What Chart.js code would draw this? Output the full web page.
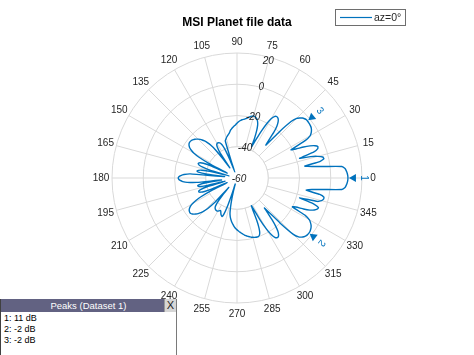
<!DOCTYPE html>
<html><head><meta charset="utf-8">
<script src="https://cdn.jsdelivr.net/npm/chart.js@4.4.1/dist/chart.umd.min.js"></script>
<style>
html,body{margin:0;padding:0;background:#fff;}
#wrap{position:relative;width:474px;height:355px;overflow:hidden;background:#fff;}
#c{position:absolute;left:0;top:0;}
#peaks{position:absolute;left:0;top:299px;width:175px;height:60px;background:#fff;border-left:1px solid #404040;border-right:1px solid #7a7a7a;font-family:Arial,"Liberation Sans",sans-serif;}
#peaks .hdr{position:relative;height:13px;background:#626282;color:#fff;font-size:9.5px;line-height:13px;text-align:center;}
#peaks .x{position:absolute;right:0;top:0;width:12px;height:13px;background:#d6d6d6;color:#222;font-size:11px;line-height:13px;text-align:center;box-sizing:border-box;border-left:1px solid #9a9a9a;}
#peaks .row{font-size:9px;line-height:11px;padding-left:3px;color:#000;}
#peaks .rows{padding-top:1px;}
</style></head><body>
<div id="wrap">
<canvas id="c" width="474" height="355"></canvas>
<div id="peaks"><div class="hdr">Peaks (Dataset 1)<div class="x">X</div></div><div class="rows" id="rows"></div></div>
</div>
<script>
// ---- data, one row = 15 degrees ----
const anglesDeg = [
  0, 1.25, 2.5, 3.75, 5, 6.25, 7.5, 8.75, 10, 11.25, 12.5, 13.75,
  15, 16.25, 17.5, 18.75, 20, 21.25, 22.5, 23.75, 25, 26.25, 27.5, 28.75,
  30, 31.25, 32.5, 33.75, 35, 36.25, 37.5, 38.75, 40, 41.25, 42.5, 43.75,
  45, 46.25, 47.5, 48.75, 50, 51.25, 52.5, 53.75, 55, 56.25, 57.5, 58.75,
  60, 61.25, 62.5, 63.75, 65, 66.25, 67.5, 68.75, 70, 71.25, 72.5, 73.75,
  75, 76.25, 77.5, 78.75, 80, 81.25, 82.5, 83.75, 85, 86.25, 87.5, 88.75,
  90, 91.25, 92.5, 93.75, 95, 96.25, 97.5, 98.75, 100, 101.25, 102.5, 103.75,
  105, 106.25, 107.5, 108.75, 110, 111.25, 112.5, 113.75, 115, 116.25, 117.5, 118.75,
  120, 121.25, 122.5, 123.75, 125, 126.25, 127.5, 128.75, 130, 131.25, 132.5, 133.75,
  135, 136.25, 137.5, 138.75, 140, 141.25, 142.5, 143.75, 145, 146.25, 147.5, 148.75,
  150, 151.25, 152.5, 153.75, 155, 156.25, 157.5, 158.75, 160, 161.25, 162.5, 163.75,
  165, 166.25, 167.5, 168.75, 170, 171.25, 172.5, 173.75, 175, 176.25, 177.5, 178.75,
  180, 181.25, 182.5, 183.75, 185, 186.25, 187.5, 188.75, 190, 191.25, 192.5, 193.75,
  195, 196.25, 197.5, 198.75, 200, 201.25, 202.5, 203.75, 205, 206.25, 207.5, 208.75,
  210, 211.25, 212.5, 213.75, 215, 216.25, 217.5, 218.75, 220, 221.25, 222.5, 223.75,
  225, 226.25, 227.5, 228.75, 230, 231.25, 232.5, 233.75, 235, 236.25, 237.5, 238.75,
  240, 241.25, 242.5, 243.75, 245, 246.25, 247.5, 248.75, 250, 251.25, 252.5, 253.75,
  255, 256.25, 257.5, 258.75, 260, 261.25, 262.5, 263.75, 265, 266.25, 267.5, 268.75,
  270, 271.25, 272.5, 273.75, 275, 276.25, 277.5, 278.75, 280, 281.25, 282.5, 283.75,
  285, 286.25, 287.5, 288.75, 290, 291.25, 292.5, 293.75, 295, 296.25, 297.5, 298.75,
  300, 301.25, 302.5, 303.75, 305, 306.25, 307.5, 308.75, 310, 311.25, 312.5, 313.75,
  315, 316.25, 317.5, 318.75, 320, 321.25, 322.5, 323.75, 325, 326.25, 327.5, 328.75,
  330, 331.25, 332.5, 333.75, 335, 336.25, 337.5, 338.75, 340, 341.25, 342.5, 343.75,
  345, 346.25, 347.5, 348.75, 350, 351.25, 352.5, 353.75, 355, 356.25, 357.5, 358.75
];
const gainDb = [
  11, 10.9, 10.6, 10.1, 9.4, 7.5, -3.5, -11.5, -16, -6, -3, -3.5,
  -6.5, -11, -18, -8, -5, -4.5, -6, -9, -13, -18, -21, -10,
  -6, -4.5, -3.5, -2.8, -2.4, -2.2, -2.1, -2, -2, -2.5, -3.2, -4.5,
  -6, -10, -20, -32, -28, -22, -18, -15.5, -14, -13.3, -13.2, -14,
  -16, -20, -26, -33, -38, -32, -27, -23.5, -21.5, -20.3, -19.6, -19.2,
  -19, -19.2, -19.6, -20.3, -21, -21.5, -22, -22.3, -22.6, -23, -23.5, -24.2,
  -25, -25.7, -26.4, -27, -27.6, -28.3, -29, -30, -31, -31.6, -32.2, -32.8,
  -33.5, -34.3, -35, -48, -56, -48, -41, -37.5, -35.8, -35, -34.6, -34.4,
  -34.5, -35, -36.5, -40, -52, -45, -37, -33, -30.5, -28.5, -27, -25.8,
  -24.8, -24, -23.3, -22.8, -22.4, -22.1, -22, -22.1, -22.5, -23.2, -24.2, -25.8,
  -28, -32, -40, -53, -42, -36.5, -34.5, -33.6, -33.6, -34.5, -37, -42,
  -55, -42, -37, -34.8, -34, -35, -40, -52, -30, -26, -24, -22.8,
  -22.4, -22.7, -23.6, -25.2, -28, -34, -50, -40, -35.5, -34.3, -35, -38,
  -52, -40, -35.5, -34.2, -34, -35, -37.5, -43, -53, -42, -34, -30,
  -27, -25.2, -24, -23.2, -22.8, -22.6, -22.7, -23.2, -24, -25, -26.3, -28,
  -30, -33, -38, -52, -45, -40, -37.5, -36.3, -35.8, -35.5, -35.3, -35.3,
  -35.5, -36, -36.5, -36.5, -35.5, -34.5, -34, -33.5, -35, -40, -50, -56,
  -51, -46, -41, -37, -35, -33.5, -32.3, -31.2, -30.2, -29.2, -28.3, -27.5,
  -26.8, -26.2, -25.6, -25, -24.4, -23.8, -23.2, -22.7, -22.2, -21.8, -21.4, -21,
  -20.7, -20.4, -20.2, -20.1, -20.1, -20.6, -22, -25, -30, -37, -40, -30,
  -22, -17.5, -15, -14, -14, -15, -17, -20.5, -25, -30, -34, -20,
  -9, -5.5, -4, -3, -2.4, -2.1, -2, -2.1, -2.5, -3, -3.8, -5,
  -6.5, -10, -20, -18, -13, -9, -6.5, -5, -4.5, -8, -18, -6.5,
  -4, -3, -3, -6, -15, -11.5, -3.5, 7.5, 9.4, 10.1, 10.6, 10.9
];
const angleTickValues = [0, 15, 30, 45, 60, 75, 90, 105, 120, 135, 150, 165, 180, 195, 210, 225, 240, 255, 270, 285, 300, 315, 330, 345];
const angleTickLabels = ['0', '15', '30', '45', '60', '75', '90', '105', '120', '135', '150', '165', '180', '195', '210', '225', '240', '255', '270', '285', '300', '315', '330', '345'];
const radialTickValues = [-60, -40, -20, 0, 20];
const radialTickLabels = ['-60', '-40', '-20', '0', '20'];
const peakIds = ['1', '2', '3'];
const peakAngles = [0, 322.5, 39];
const peakDb = [11, -2, -2];
const seriesName = 'az=0°';
const chartTitle = 'MSI Planet file data';

// ---- build radar table: radar runs clockwise, the pattern counter-clockwise ----
const N = anglesDeg.length;
const STEP = 360 / N;
const radarLabels = [], radarData = [];
for (let i = 0; i < N; i++) {
  const k = (N - i) % N;
  radarLabels.push(String(anglesDeg[k]));
  radarData.push(gainDb[k]);
}
function angleToIndex(a) { return ((360 - a) % 360) / STEP; }

const FONT = '"Liberation Sans", Arial, Helvetica, sans-serif';
const BLUE = '#0072BD';
const GRID = '#d9d9d9';
const TXT = '#262626';

const polarDecor = {
  id: 'polarDecor',
  beforeDatasetsDraw(chart) {
    const s = chart.scales.r, ctx = chart.ctx;
    const r40 = s.getDistanceFromCenterForValue(radialTickValues[1]);
    ctx.save();
    ctx.beginPath();
    ctx.arc(s.xCenter, s.yCenter, r40, 0, Math.PI * 2);
    ctx.fillStyle = '#fff';
    ctx.fill();
    ctx.strokeStyle = GRID;
    ctx.lineWidth = 1;
    ctx.stroke();
    ctx.fillStyle = TXT;
    ctx.font = '10px ' + FONT;
    ctx.textAlign = 'center';
    ctx.textBaseline = 'middle';
    const outer = s.getDistanceFromCenterForValue(s.max);
    angleTickValues.forEach((a, j) => {
      const p = s.getPointPosition(angleToIndex(a), outer + 11);
      ctx.fillText(angleTickLabels[j], p.x, p.y);
    });
    ctx.restore();
  },
  afterDatasetsDraw(chart) {
    const s = chart.scales.r, ctx = chart.ctx;
    ctx.save();
    ctx.fillStyle = TXT;
    ctx.font = 'italic 10px ' + FONT;
    ctx.textAlign = 'center';
    ctx.textBaseline = 'middle';
    const last = radialTickValues.length - 1;
    radialTickValues.forEach((v, j) => {
      let d = s.getDistanceFromCenterForValue(v);
      if (j === last) d -= 4;
      const p = s.getPointPosition(angleToIndex(75), d);
      ctx.fillText(radialTickLabels[j], p.x + (j === 0 ? 2 : 0), p.y + (j === 0 ? 1 : 0));
    });
    peakAngles.forEach((a, j) => {
      const idx = angleToIndex(a);
      const d = s.getDistanceFromCenterForValue(peakDb[j]);
      const tip = s.getPointPosition(idx, d + 1);
      const base = s.getPointPosition(idx, d + 8);
      const ux = (base.x - tip.x) / 7, uy = (base.y - tip.y) / 7;
      const px = -uy, py = ux;
      ctx.beginPath();
      ctx.moveTo(tip.x, tip.y);
      ctx.lineTo(base.x + px * 4, base.y + py * 4);
      ctx.lineTo(base.x - px * 4, base.y - py * 4);
      ctx.closePath();
      ctx.fillStyle = BLUE;
      ctx.fill();
      const lp = s.getPointPosition(idx, d + 16);
      ctx.save();
      ctx.translate(lp.x, lp.y);
      ctx.rotate((90 - a) * Math.PI / 180);
      ctx.font = '10px ' + FONT;
      ctx.fillStyle = BLUE;
      ctx.textAlign = 'center';
      ctx.textBaseline = 'middle';
      ctx.fillText(peakIds[j], 0, 0);
      ctx.restore();
    });
    ctx.restore();
  },
  afterDraw(chart) {
    const ctx = chart.ctx;
    ctx.save();
    ctx.fillStyle = '#fff';
    ctx.fillRect(335.5, 9.5, 70, 16);
    ctx.strokeStyle = '#6e6e6e';
    ctx.lineWidth = 1;
    ctx.strokeRect(335.5, 9.5, 70, 16);
    ctx.strokeStyle = BLUE;
    ctx.lineWidth = 1.2;
    ctx.beginPath();
    ctx.moveTo(340, 17.5);
    ctx.lineTo(372, 17.5);
    ctx.stroke();
    ctx.fillStyle = TXT;
    ctx.font = '10.5px ' + FONT;
    ctx.textAlign = 'left';
    ctx.textBaseline = 'middle';
    ctx.fillText(seriesName, 374, 18);
    ctx.restore();
  }
};

new Chart(document.getElementById('c'), {
  type: 'radar',
  data: {
    labels: radarLabels,
    datasets: [{
      label: seriesName,
      data: radarData,
      borderColor: BLUE,
      borderWidth: 1.4,
      pointRadius: 0,
      pointHoverRadius: 0,
      fill: false,
      tension: 0.15
    }]
  },
  options: {
    responsive: false,
    animation: false,
    devicePixelRatio: 1,
    layout: { padding: { left: 112, right: 112, top: 0, bottom: 52 } },
    plugins: {
      legend: { display: false },
      tooltip: { enabled: false },
      title: {
        display: true,
        text: chartTitle,
        color: '#000',
        font: { family: FONT, size: 12, weight: 'bold', lineHeight: 1.2 },
        padding: { top: 15, bottom: 23.6 }
      }
    },
    scales: {
      r: {
        min: -60,
        max: 20,
        startAngle: 90,
        ticks: { display: false, stepSize: 20 },
        pointLabels: { display: false },
        grid: { color: GRID, lineWidth: 1, circular: true },
        angleLines: {
          display: true,
          color: GRID,
          lineWidth: (c) => (c.index % Math.round(15 / STEP) === 0 ? 1 : 0)
        }
      }
    }
  },
  plugins: [polarDecor]
});

const rows = document.getElementById('rows');
peakIds.forEach((id, j) => {
  const d = document.createElement('div');
  d.className = 'row';
  d.textContent = id + ': ' + peakDb[j] + ' dB';
  rows.appendChild(d);
});
</script>
</body></html>
